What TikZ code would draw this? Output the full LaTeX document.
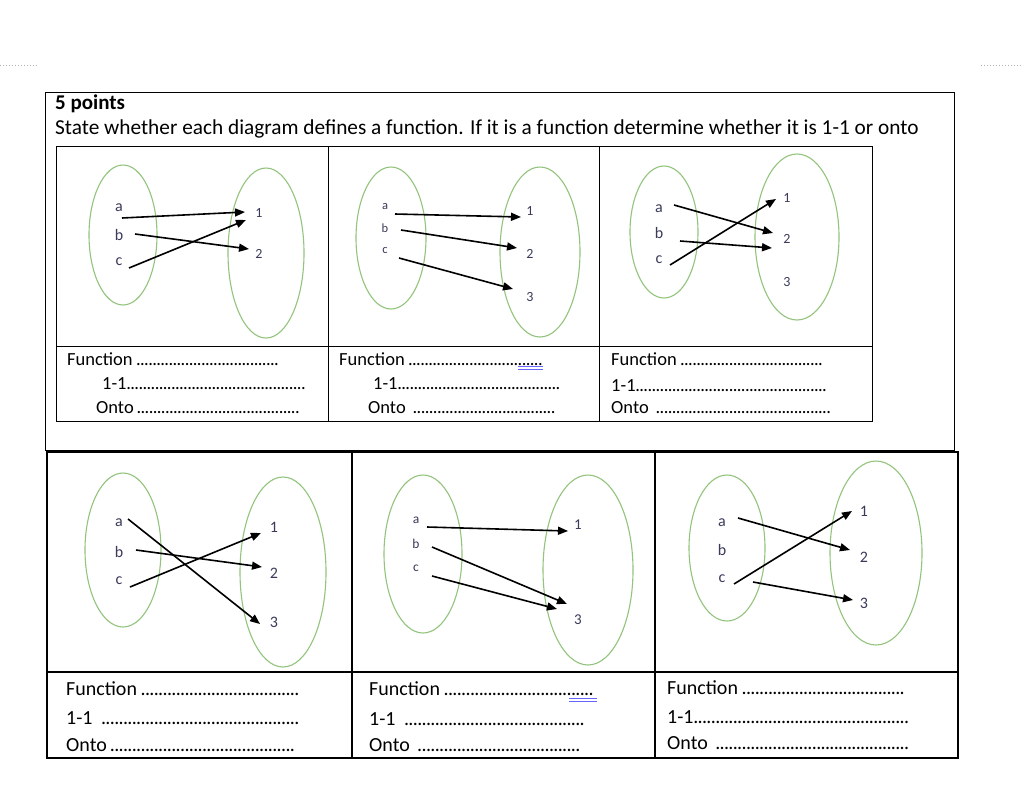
\documentclass[tikz,border=0pt]{standalone}
\usepackage{fontspec}
\setmainfont{Carlito}
\usetikzlibrary{arrows.meta}
\definecolor{ell}{HTML}{93C47D}
\definecolor{lbl}{HTML}{3A3A5A}
\tikzset{
  set/.style={draw=ell,line width=1.1pt},
  frame/.style={draw=black,line width=0.9pt},
  maparrow/.style={line width=1.6pt,-{Triangle[length=10pt,width=8pt]}},
  lab/.style={inner sep=0pt,font=\fontsize{16}{16}\selectfont,text=lbl},
  slab/.style={inner sep=0pt,font=\fontsize{12.5}{12.5}\selectfont,text=lbl},
  nlab/.style={inner sep=0pt,font=\fontsize{14}{14}\selectfont,text=lbl},
  ans/.style={anchor=west,inner sep=0pt,font=\fontsize{18.5}{18.5}\selectfont},
  ansb/.style={anchor=west,inner sep=0pt,font=\fontsize{20}{20}\selectfont},
  blueul/.style={draw=blue!60,line width=0.6pt}
}
\newcommand{\dl}[2]{\makebox[#1pt][l]{#2\leaders\hbox to 0.22em{\hss.\hss}\hfill}}
\begin{document}
\begin{tikzpicture}[x=1pt,y=-1pt]
\useasboundingbox (0,0) rectangle (1024,811);
\fill[white] (0,0) rectangle (1024,811);
% top dotted marks
\coordinate (d1) at (0,65); \coordinate (d2) at (37,65);
\coordinate (d3) at (981,65); \coordinate (d4) at (1023,65);
\draw[gray!60,dotted,line width=1pt] (d1) -- (d2);
\draw[gray!60,dotted,line width=1pt] (d3) -- (d4);
% outer box
\draw[frame] (45,92) rectangle (954,450);
\node[anchor=west,inner sep=0pt,font=\fontsize{21}{21}\selectfont\bfseries] (title) at (55,104) {5 points};
\node[anchor=west,inner sep=0pt,font=\fontsize{21.3}{21}\selectfont] (instr) at (55,129) {State whether each diagram defines a function. If it is a function determine whether it is 1-1 or onto};
% top table
\draw[frame] (56,146) rectangle (872,421);
\draw[frame] (56,346) -- (872,346);
\draw[frame] (328,146) -- (328,421);
\draw[frame] (599,146) -- (599,421);
% bottom table
\draw[frame,line width=1.1pt] (47,452) rectangle (958,758);
\draw[frame,line width=1.1pt] (47,672) -- (958,672);
\draw[frame,line width=1.1pt] (352,452) -- (352,758);
\draw[frame,line width=1.1pt] (655,452) -- (655,758);

% ---- panel 1 (top left)
\draw[set] (123,235) ellipse [x radius=34,y radius=70];
\draw[set] (266,253) ellipse [x radius=38,y radius=85];
\node[lab] (p1a) at (119,208) {a};
\node[lab] (p1b) at (119,235) {b};
\node[lab] (p1c) at (119,262) {c};
\node[nlab] (p11) at (259,213) {1};
\node[nlab] (p12) at (259,254) {2};
\coordinate (p1as) at (122,218); \coordinate (p1ae) at (245,212);
\coordinate (p1bs) at (135,234); \coordinate (p1be) at (249,249);
\coordinate (p1cs) at (129,268); \coordinate (p1ce) at (246,220);
\draw[maparrow] (p1as) -- (p1ae);
\draw[maparrow] (p1bs) -- (p1be);
\draw[maparrow] (p1cs) -- (p1ce);

% ---- panel 2 (top middle)
\draw[set] (391,238) ellipse [x radius=35,y radius=71];
\draw[set] (540,252) ellipse [x radius=40,y radius=85];
\node[slab] (p2a) at (385,207) {a};
\node[slab] (p2b) at (385,228) {b};
\node[slab] (p2c) at (385,251) {c};
\node[nlab] (p21) at (530,211) {1};
\node[nlab] (p22) at (530,254) {2};
\node[nlab] (p23) at (530,297) {3};
\coordinate (p2as) at (395,214); \coordinate (p2ae) at (521,217);
\coordinate (p2bs) at (401,230); \coordinate (p2be) at (517,248);
\coordinate (p2cs) at (399,258); \coordinate (p2ce) at (513,289);
\draw[maparrow] (p2as) -- (p2ae);
\draw[maparrow] (p2bs) -- (p2be);
\draw[maparrow] (p2cs) -- (p2ce);

% ---- panel 3 (top right)
\draw[set] (664,232) ellipse [x radius=34,y radius=66];
\draw[set] (797,237) ellipse [x radius=42,y radius=83];
\node[lab] (p3a) at (659,209) {a};
\node[lab] (p3b) at (659,233) {b};
\node[lab] (p3c) at (659,260) {c};
\node[nlab] (p31) at (787,198) {1};
\node[nlab] (p32) at (787,239) {2};
\node[nlab] (p33) at (787,282) {3};
\coordinate (p3as) at (674,205); \coordinate (p3ae) at (773,233);
\coordinate (p3bs) at (680,241); \coordinate (p3be) at (772,248);
\coordinate (p3cs) at (670,265); \coordinate (p3ce) at (776,199);
\draw[maparrow] (p3as) -- (p3ae);
\draw[maparrow] (p3bs) -- (p3be);
\draw[maparrow] (p3cs) -- (p3ce);

% ---- panel 4 (bottom left)
\draw[set] (123,550) ellipse [x radius=38,y radius=77];
\draw[set] (283,572) ellipse [x radius=43,y radius=95];
\node[lab] (p4a) at (119,523) {a};
\node[lab] (p4b) at (119,552) {b};
\node[lab] (p4c) at (119,581) {c};
\node[lab] (p41) at (274,527) {1};
\node[lab] (p42) at (274,573) {2};
\node[lab] (p43) at (274,622) {3};
\coordinate (p4as) at (128,519); \coordinate (p4ae) at (260,624);
\coordinate (p4bs) at (136,550); \coordinate (p4be) at (262,567);
\coordinate (p4cs) at (130,587); \coordinate (p4ce) at (261,533);
\draw[maparrow] (p4as) -- (p4ae);
\draw[maparrow] (p4bs) -- (p4be);
\draw[maparrow] (p4cs) -- (p4ce);

% ---- panel 5 (bottom middle)
\draw[set] (423,554) ellipse [x radius=39,y radius=79];
\draw[set] (588,570) ellipse [x radius=45,y radius=95];
\node[slab,font=\fontsize{13.5}{13.5}\selectfont] (p5a) at (416,520) {a};
\node[slab,font=\fontsize{13.5}{13.5}\selectfont] (p5b) at (416,544) {b};
\node[slab,font=\fontsize{13.5}{13.5}\selectfont] (p5c) at (416,568) {c};
\node[nlab,font=\fontsize{15}{15}\selectfont] (p51) at (578,525) {1};
\node[nlab,font=\fontsize{15}{15}\selectfont] (p53) at (578,620) {3};
\coordinate (p5as) at (427,527); \coordinate (p5ae) at (568,531);
\coordinate (p5bs) at (432,547); \coordinate (p5be) at (567,604);
\coordinate (p5cs) at (432,576); \coordinate (p5ce) at (557,609);
\draw[maparrow] (p5as) -- (p5ae);
\draw[maparrow] (p5bs) -- (p5be);
\draw[maparrow] (p5cs) -- (p5ce);

% ---- panel 6 (bottom right)
\draw[set] (727,548) ellipse [x radius=38,y radius=73];
\draw[set] (876,553) ellipse [x radius=46,y radius=92];
\node[lab] (p6a) at (722,523) {a};
\node[lab] (p6b) at (722,550) {b};
\node[lab] (p6c) at (722,579) {c};
\node[lab] (p61) at (864,511) {1};
\node[lab] (p62) at (864,557) {2};
\node[lab] (p63) at (864,603) {3};
\coordinate (p6as) at (738,518); \coordinate (p6ae) at (850,550);
\coordinate (p6cs) at (734,584); \coordinate (p6ce) at (852,511);
\coordinate (p6ds) at (753,582); \coordinate (p6de) at (853,600);
\draw[maparrow] (p6as) -- (p6ae);
\draw[maparrow] (p6cs) -- (p6ce);
\draw[maparrow] (p6ds) -- (p6de);

% ---- answer texts top
\node[ans] (t1f) at (67,359) {\dl{213}{Function}};
\node[ans] (t1o) at (102,384) {\dl{204}{1-1}};
\node[ans] (t1n) at (96,408) {\dl{205}{Onto}};
\node[ans] (t2f) at (339,359) {\dl{204}{Function}};
\node[ans] (t2o) at (373,384) {\dl{190}{1-1}};
\node[ans] (t2n) at (368,408) {\dl{190}{Onto }};
\node[ans] (t3f) at (611,359) {\dl{212}{Function}};
\node[ans] (t3o) at (611,386) {\dl{218}{1-1}};
\node[ans] (t3n) at (611,408) {\dl{220}{Onto }};
\draw[blueul] (518,366.5) -- (543,366.5);
\draw[blueul] (518,369.5) -- (543,369.5);
% ---- answer texts bottom
\node[ansb] (b1f) at (66,689) {\dl{237}{Function}};
\node[ansb] (b1o) at (66,718) {\dl{236}{1-1 }};
\node[ansb] (b1n) at (66,745) {\dl{229}{Onto}};
\node[ansb] (b2f) at (369,689) {\dl{228}{Function}};
\node[ansb] (b2o) at (369,719) {\dl{219}{1-1 }};
\node[ansb] (b2n) at (369,745) {\dl{214}{Onto }};
\node[ansb] (b3f) at (667,688) {\dl{238}{Function}};
\node[ansb] (b3o) at (667,717) {\dl{245}{1-1}};
\node[ansb] (b3n) at (667,743) {\dl{246}{Onto }};
\draw[blueul] (569,698.5) -- (597,698.5);
\draw[blueul] (569,701.5) -- (597,701.5);
\end{tikzpicture}
\end{document}
